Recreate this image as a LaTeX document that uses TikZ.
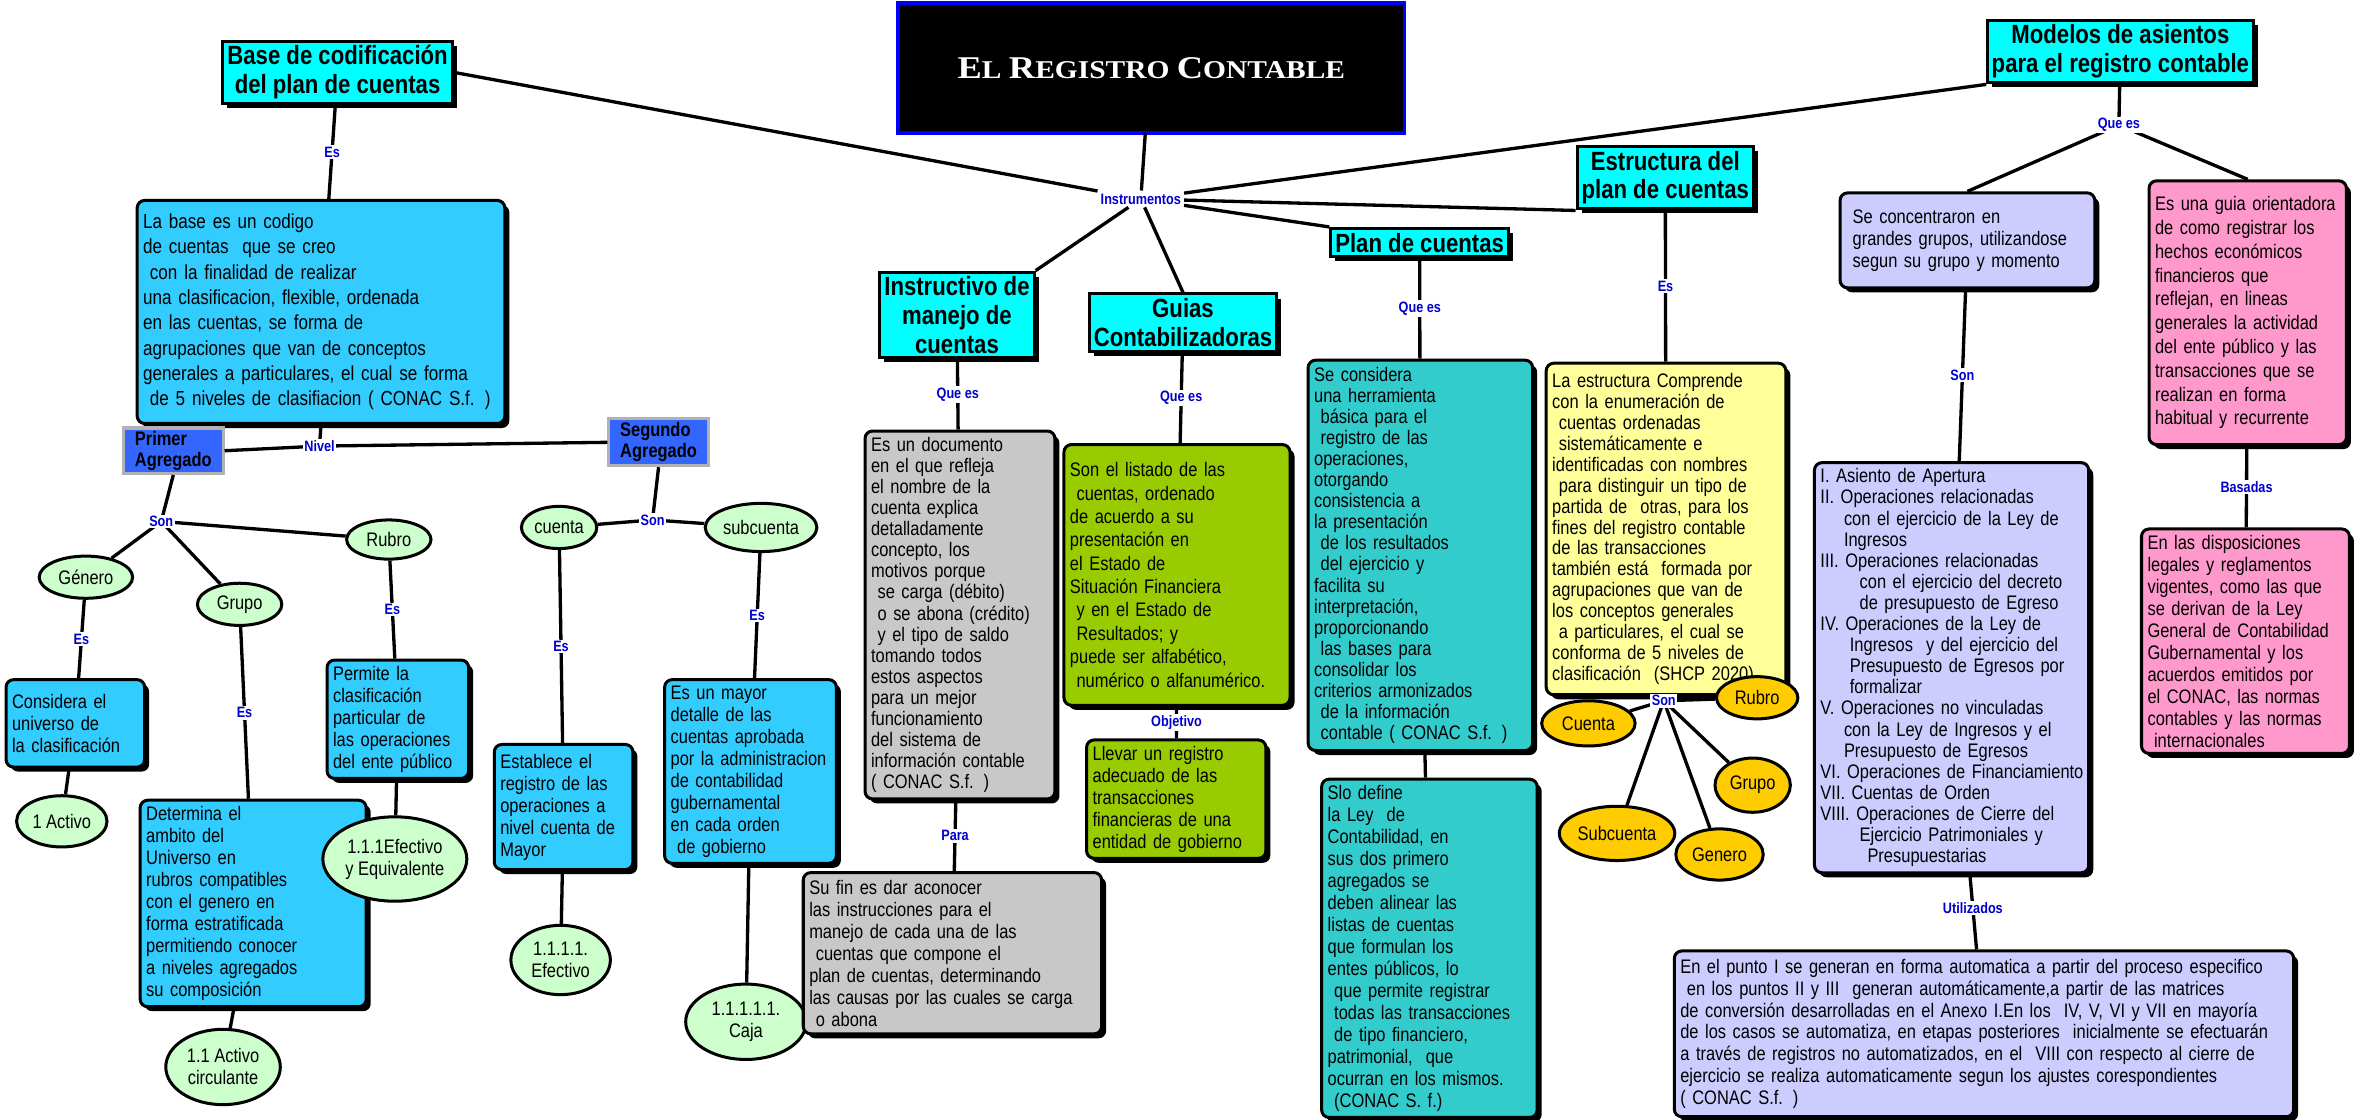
\documentclass[tikz,border=0pt]{standalone}
\usepackage{fontspec}
\setmainfont{Liberation Sans}[FakeStretch=0.84]
\newfontfamily\titlefont{Liberation Serif}[FakeStretch=1.15]
\usetikzlibrary{shapes.geometric,shadows}
\definecolor{cyanb}{HTML}{00FFFF}
\definecolor{sky}{HTML}{33CCFF}
\definecolor{agg}{HTML}{3366FF}
\definecolor{ell}{HTML}{CCFFCC}
\definecolor{grayb}{HTML}{C8C8C8}
\definecolor{greenb}{HTML}{99CC00}
\definecolor{teal}{HTML}{33CCCC}
\definecolor{yel}{HTML}{FFFF99}
\definecolor{ora}{HTML}{FFCC00}
\definecolor{lav}{HTML}{CCCCFF}
\definecolor{pinkb}{HTML}{FF99CC}
\definecolor{lblue}{HTML}{0000CC}
\begin{document}
\begin{tikzpicture}[x=1pt,y=-1pt,
  line width=2.2pt,
  every node/.style={font=\fontsize{13}{14.6}\selectfont},
  head/.style={draw,fill=cyanb,line width=2pt,align=center,font=\fontsize{17.5}{19}\selectfont\bfseries,inner sep=3pt,drop shadow={shadow xshift=3pt,shadow yshift=-3pt,opacity=1,fill=black}},
  box/.style={draw,line width=2pt,rounded corners=5pt,align=left,anchor=north west,inner sep=4pt,drop shadow={shadow xshift=3pt,shadow yshift=-3pt,opacity=1,fill=black}},
  agg/.style={draw=gray!60,fill=agg,line width=2pt,align=left,font=\fontsize{13}{14}\selectfont\bfseries,inner sep=2pt,anchor=north west},
  el/.style={ellipse,draw,line width=2pt,fill=ell,align=center,inner sep=1pt},
  oe/.style={ellipse,draw,line width=2pt,fill=ora,align=center,inner sep=1pt},
  lab/.style={text=lblue,font=\fontsize{10}{10}\selectfont\bfseries,inner sep=1pt,fill=white},
]
\path[use as bounding box] (0,0) rectangle (1568,742.6);
% title
\node[draw=blue,fill=black,line width=2.5pt,minimum width=336,minimum height=86,text=white,font=\titlefont\fontsize{17}{18}\selectfont\bfseries] (title) at (764,45) {{\fontsize{21}{21}\selectfont E}L {\fontsize{21}{21}\selectfont R}EGISTRO {\fontsize{21}{21}\selectfont C}ONTABLE};
% headers
\node[head] (base) at (224,48) {Base de codificación\\del plan de cuentas};
\node[head] (mod) at (1407,34) {Modelos de asientos\\para el registro contable};
\node[head] (est) at (1105,118) {Estructura del\\plan de cuentas};
\node[head] (plan) at (942,161) {Plan de cuentas};
\node[head] (ins) at (635,209) {Instructivo de\\manejo de\\cuentas};
\node[head] (guia) at (785,214) {Guias\\Contabilizadoras};
\node[lab] (instr) at (757,132) {Instrumentos};
% boxes
\node[box,fill=sky,text width=236,minimum height=148,font=\fontsize{13.5}{16.8}\selectfont] (labase) at (90,132) {La base es un codigo\\de cuentas~ que se creo\\~con la finalidad de realizar\\una clasificacion, flexible, ordenada\\en las cuentas, se forma de\\agrupaciones que van de conceptos\\generales a particulares, el cual se forma\\~de 5 niveles de clasifiacion ( CONAC S.f. )};
\node[agg,minimum width=66,minimum height=28] (pa) at (81,283) {Primer\\Agregado};
\node[agg,minimum width=66,minimum height=31] (sa) at (403,277) {Segundo\\Agregado};
\node[el,minimum width=62,minimum height=28] (gen) at (57,383) {Género};
\node[el,minimum width=56,minimum height=28] (grupo) at (159,401) {Grupo};
\node[el,minimum width=56,minimum height=26] (rubro) at (258,358) {Rubro};
\node[box,fill=sky,text width=84,minimum height=58] (cons) at (3,450) {Considera el\\universo de\\la clasificación};
\node[el,minimum width=60,minimum height=34] (act) at (41,545) {1 Activo};
\node[box,fill=sky,text width=142,minimum height=137] (det) at (92,530) {Determina el\\ambito del\\Universo en\\rubros compatibles\\con el genero en\\forma estratificada\\permitiendo conocer\\a niveles agregados\\su composición};
\node[el,minimum width=76,minimum height=50] (ac) at (148,708) {1.1 Activo\\circulante};
\node[box,fill=sky,text width=86,minimum height=77] (perm) at (216,437) {Permite la\\clasificación\\particular de\\las operaciones\\del ente público};
\node[el,minimum width=80,minimum height=56] (efe) at (262,570) {1.1.1Efectivo\\y Equivalente};
\node[el,minimum width=50,minimum height=28] (cta) at (371,350) {cuenta};
\node[el,minimum width=70,minimum height=32] (sub) at (505,350) {subcuenta};
\node[box,fill=sky,text width=84,minimum height=83] (estab) at (327,493) {Establece el\\registro de las\\operaciones a\\nivel cuenta de\\Mayor};
\node[el,minimum width=66,minimum height=46] (e4) at (372,637) {1.1.1.1.\\Efectivo};
\node[box,fill=sky,text width=106,minimum height=115] (mayor) at (440,450) {Es un mayor\\detalle de las\\cuentas aprobada\\por la administracion\\de contabilidad\\gubernamental\\en cada orden\\~de gobierno};
\node[el,minimum width=80,minimum height=50] (caja) at (495,678) {1.1.1.1.1.\\Caja};
% instructivo
\node[box,fill=grayb,text width=118,minimum height=240,font=\fontsize{13}{14}\selectfont] (insb) at (573,285) {Es un documento\\en el que refleja\\el nombre de la\\cuenta explica\\detalladamente\\concepto, los\\motivos porque\\~se carga (débito)\\~o se abona (crédito)\\~y el tipo de saldo\\tomando todos\\estos aspectos\\para un mejor\\funcionamiento\\del sistema de\\información contable\\( CONAC S.f. )};
\node[box,fill=grayb,text width=190,minimum height=107] (fin) at (532,578) {Su fin es dar aconocer\\las instrucciones para el\\manejo de cada una de las\\~cuentas que compone el\\plan de cuentas, determinando\\las causas por las cuales se carga\\~o abona};
% guias
\node[box,fill=greenb,text width=142,minimum height=173,font=\fontsize{13}{15.5}\selectfont] (gb) at (705,294) {Son el listado de las\\~cuentas, ordenado\\de acuerdo a su\\presentación en\\el Estado de\\Situación Financiera\\~y en el Estado de\\~Resultados; y\\puede ser alfabético,\\~numérico o alfanumérico.};
\node[box,fill=greenb,text width=111,minimum height=78] (lle) at (720,490) {Llevar un registro\\adecuado de las\\transacciones\\financieras de una\\entidad de gobierno};
% plan
\node[box,fill=teal,text width=141,minimum height=259,font=\fontsize{13}{14}\selectfont] (pb) at (867,238) {Se considera\\una herramienta\\~básica para el\\~registro de las\\operaciones,\\otorgando\\consistencia a\\la presentación\\~de los resultados\\~del ejercicio y\\facilita su\\interpretación,\\proporcionando\\~las bases para\\consolidar los\\criterios armonizados\\~de la información\\~contable ( CONAC S.f. )};
\node[box,fill=teal,text width=135,minimum height=224] (slo) at (876,516) {Slo define\\la Ley~ de\\Contabilidad, en\\sus dos primero\\agregados se\\deben alinear las\\listas de cuentas\\que formulan los\\entes públicos, lo\\~que permite registrar\\~todas las transacciones\\~de tipo financiero,\\patrimonial,~ que\\ocurran en los mismos.\\~(CONAC S. f.)};
% estructura
\node[box,fill=yel,text width=151,minimum height=220,font=\fontsize{13}{13.9}\selectfont] (eb) at (1025,240) {La estructura Comprende\\con la enumeración de\\~cuentas ordenadas\\~sistemáticamente e\\identificadas con nombres\\~para distinguir un tipo de\\partida de~ otras, para los\\fines del registro contable\\de las transacciones\\también está~ formada por\\agrupaciones que van de\\los conceptos generales\\~a particulares, el cual se\\conforma de 5 niveles de\\clasificación~ (SHCP 2020)};
\node[oe,minimum width=62,minimum height=30] (ecta) at (1054,480) {Cuenta};
\node[oe,minimum width=54,minimum height=28] (erub) at (1166,463) {Rubro};
\node[oe,minimum width=50,minimum height=36] (egru) at (1163,521) {Grupo};
\node[oe,minimum width=76,minimum height=36] (esub) at (1073,553) {Subcuenta};
\node[oe,minimum width=58,minimum height=34] (egen) at (1141,567) {Genero};
% modelos
\node[box,fill=lav,text width=161,minimum height=63] (conc) at (1220,127) {~Se concentraron en\\~grandes grupos, utilizandose\\~segun su grupo y momento};
\node[box,fill=pinkb,text width=123,minimum height=175,font=\fontsize{13}{15.8}\selectfont] (guiao) at (1425,119) {Es una guia orientadora\\de como registrar los\\hechos económicos\\financieros que\\reflejan, en lineas\\generales la actividad\\del ente público y las\\transacciones que se\\realizan en forma\\habitual y recurrente};
\node[box,fill=lav,text width=174,minimum height=270,font=\fontsize{13}{14}\selectfont] (lista) at (1203,306) {I. Asiento de Apertura\\II. Operaciones relacionadas\\\hspace*{1.2em}con el ejercicio de la Ley de\\\hspace*{1.2em}Ingresos\\III. Operaciones relacionadas\\\hspace*{2em}con el ejercicio del decreto\\\hspace*{2em}de presupuesto de Egreso\\IV. Operaciones de la Ley de\\\hspace*{1.5em}Ingresos~ y del ejercicio del\\\hspace*{1.5em}Presupuesto de Egresos por\\\hspace*{1.5em}formalizar\\V. Operaciones no vinculadas\\\hspace*{1.2em}con la Ley de Ingresos y el\\\hspace*{1.2em}Presupuesto de Egresos\\\mbox{VI. Operaciones de Financiamiento}\\VII. Cuentas de Orden\\VIII. Operaciones de Cierre del\\\hspace*{2em}Ejercicio Patrimoniales y\\\hspace*{2.4em}Presupuestarias};
\node[box,fill=lav,text width=403,minimum height=110,font=\fontsize{13}{14.5}\selectfont] (auto) at (1110,630) {En el punto I se generan en forma automatica a partir del proceso especifico\\~en los puntos II y III~ generan automáticamente,a partir de las matrices\\de conversión desarrolladas en el Anexo I.En los~ IV, V, VI y VII en mayoría\\de los casos se automatiza, en etapas posteriores~ inicialmente se efectuarán\\a través de registros no automatizados, en el~ VIII con respecto al cierre de\\ejercicio se realiza automaticamente segun los ajustes corespondientes\\( CONAC S.f. )};
\node[box,fill=pinkb,text width=130,minimum height=147] (disp) at (1420,350) {En las disposiciones\\legales y reglamentos\\vigentes, como las que\\se derivan de la Ley\\General de Contabilidad\\Gubernamental y los\\acuerdos emitidos por\\el CONAC, las normas\\contables y las normas\\~internacionales};
\coordinate (tb) at (760,88);
% connectors
\draw (base.east) -- (instr);
\draw (tb) -- (instr);
\draw (instr) -- (1318,56);
\draw (instr) -- (est.south west);
\draw (instr) -- (ins.north east);
\draw (instr) -- (guia.north);
\draw (instr) -- (plan.north west);
\draw (base) -- (labase) node[lab,pos=0.5] {Es};
\draw (labase.south) -- (212,296) coordinate (nv) -- (pa.east);
\draw (nv) -- (sa.west);
\node[lab] at (nv) {Nivel};
\draw (pa.south) -- (107,346) coordinate (s1);
\draw (s1) -- (gen); \draw (s1) -- (grupo); \draw (s1) -- (rubro);
\node[lab] at (s1) {Son};
\draw (gen) -- (cons) node[lab,pos=0.5] {Es};
\draw (cons) -- (act);
\draw (grupo) -- (det) node[lab,pos=0.5] {Es};
\draw (det) -- (ac);
\draw (rubro) -- (perm) node[lab,pos=0.5] {Es};
\draw (perm) -- (efe);
\draw (sa.south) -- (433,345) coordinate (s2);
\draw (s2) -- (cta); \draw (s2) -- (sub);
\node[lab] at (s2) {Son};
\draw (cta) -- (estab) node[lab,pos=0.5] {Es};
\draw (estab) -- (e4);
\draw (sub) -- (mayor) node[lab,pos=0.5] {Es};
\draw (mayor) -- (caja);
\draw (ins) -- (insb) node[lab,pos=0.5] {Que es};
\draw (insb) -- (fin) node[lab,pos=0.5] {Para};
\draw (guia) -- (gb) node[lab,pos=0.5] {Que es};
\draw (gb) -- (lle) node[lab,pos=0.5] {Objetivo};
\draw (plan) -- (pb) node[lab,pos=0.5] {Que es};
\draw (pb) -- (slo);
\draw (est) -- (eb) node[lab,pos=0.5] {Es};
\draw (eb.south) ++(-10,0) coordinate (eb1) -- (1104,465) coordinate (s3);
\draw (s3) -- (ecta); \draw (s3) -- (erub); \draw (s3) -- (egru); \draw (s3) -- (esub); \draw (s3) -- (egen);
\node[lab] at (s3) {Son};
\draw (mod) -- (1406,83) coordinate (q);
\draw (q) -- (conc.north); \draw (q) -- (guiao.north);
\node[lab] at (q) {Que es};
\draw (conc) -- (lista) node[lab,pos=0.5] {Son};
\draw (guiao) -- (disp) node[lab,pos=0.5] {Basadas};
\draw (lista) -- (auto) node[lab,pos=0.45] {Utilizados};
\end{tikzpicture}
\end{document}
